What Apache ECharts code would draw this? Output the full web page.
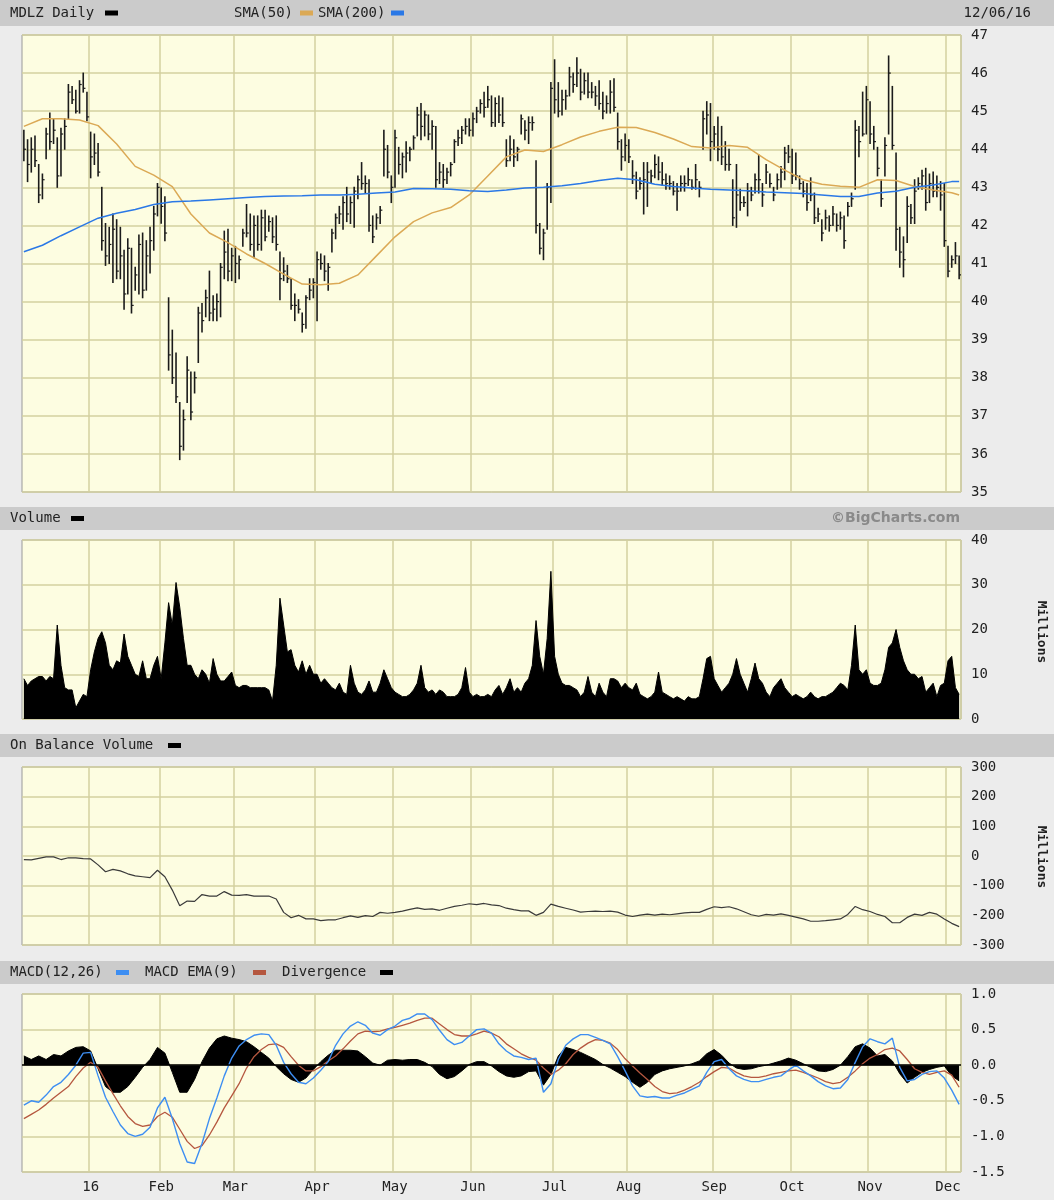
<!DOCTYPE html>
<html>
<head>
<meta charset="utf-8">
<title>MDLZ Daily</title>
<script src="https://cdn.jsdelivr.net/npm/echarts@6/dist/echarts.min.js"></script>
<style>
  html, body { margin: 0; padding: 0; background: #ececec; }
  #chart { width: 1054px; height: 1200px; }
</style>
</head>
<body>
<div id="chart"></div>
<script>
// trading days 2015-12-07 .. 2016-12-06 (NYSE calendar)
const holidays = ['2015-12-25', '2016-01-01', '2016-01-18', '2016-02-15', '2016-03-25',
  '2016-05-30', '2016-07-04', '2016-09-05', '2016-11-24']
const tradingDays = []
for (let d = new Date(Date.UTC(2015, 11, 7)); d <= new Date(Date.UTC(2016, 11, 6)); d.setUTCDate(d.getUTCDate() + 1)) {
  const s = d.toISOString().slice(0, 10)
  const wd = d.getUTCDay()
  if (wd !== 0 && wd !== 6 && !holidays.includes(s)) tradingDays.push(s)
}
const monthNames = ['16', 'Feb', 'Mar', 'Apr', 'May', 'Jun', 'Jul', 'Aug', 'Sep', 'Oct', 'Nov', 'Dec']

// daily price bars (one row per month)
const high = [
  44.5, 44.25, 44.3, 44.35, 43.6, 43.35, 44.55, 44.95, 44.8, 44.3, 44.55, 44.8, 45.7, 45.65, 45.55, 45.8, 46.0, 45.5,
  44.45, 44.4, 44.15, 43.0, 42.05, 41.95, 42.3, 42.15, 41.95, 41.35, 41.65, 41.4, 40.9, 41.75, 41.8, 41.6, 41.95, 42.5, 43.1,
  42.98, 42.75, 40.1, 39.25, 38.65, 37.35, 37.15, 38.55, 38.15, 38.15, 39.85, 39.95, 40.3, 40.8, 40.15, 40.2, 41.0, 41.85, 41.9, 41.4,
  41.45, 41.2, 41.9, 42.55, 42.3, 42.25, 42.25, 42.4, 42.4, 42.25, 42.2, 42.25, 41.3, 41.15, 40.95, 40.6, 40.2, 40.05, 39.7, 40.15, 40.6, 40.6,
  41.3, 41.25, 41.2, 41.0, 41.9, 42.3, 42.5, 42.75, 43.0, 42.75, 43.0, 43.3, 43.65, 43.3, 43.2, 42.25, 42.3, 42.5, 44.5, 44.1, 43.3,
  44.5, 44.05, 43.9, 44.2, 44.05, 44.35, 45.1, 45.2, 45.0, 44.9, 44.75, 44.6, 43.65, 43.6, 43.5, 43.65, 44.25, 44.5, 44.6, 44.8, 44.8,
  44.95, 45.1, 45.3, 45.5, 45.65, 45.4, 45.35, 45.4, 45.35, 44.25, 44.35, 44.25, 44.05, 44.9, 44.75, 44.85, 44.85, 43.7, 42.05, 41.9, 43.1, 45.75,
  46.35, 45.75, 45.55, 45.55, 46.15, 46.0, 46.4, 46.1, 46.0, 46.0, 45.75, 45.65, 45.8, 45.5, 45.4, 45.8, 45.85, 44.95, 44.25, 44.4,
  44.25, 43.7, 43.4, 43.25, 43.65, 43.65, 43.45, 43.85, 43.8, 43.65, 43.35, 43.3, 43.15, 43.1, 43.3, 43.3, 43.5, 43.2, 43.6, 43.15, 45.0, 45.25, 45.2,
  44.6, 44.85, 44.6, 44.2, 44.0, 43.2, 43.6, 42.95, 42.75, 43.1, 43.0, 43.35, 43.85, 43.1, 43.6, 43.35, 43.0, 43.35, 43.55, 44.05, 44.1,
  44.0, 43.9, 43.3, 43.15, 43.1, 43.25, 42.85, 42.45, 42.15, 42.4, 42.25, 42.5, 42.3, 42.35, 42.25, 42.6, 42.85, 44.75, 44.6, 45.5, 45.65,
  45.25, 44.6, 44.05, 43.2, 44.3, 46.45, 45.65, 43.9, 41.95, 41.7, 42.75, 42.55, 43.2, 43.25, 43.45, 43.5, 43.35, 43.4, 43.3, 43.15, 43.1,
  41.45, 41.2, 41.55, 41.2
]
const low = [
  43.7, 43.15, 43.4, 43.55, 42.6, 42.7, 43.75, 44.0, 44.15, 43.0, 43.3, 44.0, 44.8, 45.2, 44.95, 44.95, 45.5, 44.75,
  43.25, 43.6, 43.3, 41.35, 40.95, 41.0, 40.5, 40.6, 40.6, 39.8, 40.2, 39.7, 40.3, 40.2, 40.1, 40.3, 40.75, 41.35, 42.25,
  42.06, 41.6, 38.2, 37.85, 37.35, 35.85, 36.1, 37.35, 36.9, 37.6, 38.4, 39.2, 39.6, 39.5, 39.5, 39.5, 39.6, 40.6, 40.55, 40.55,
  40.5, 40.6, 41.45, 41.7, 41.35, 41.15, 41.35, 41.35, 41.6, 41.85, 41.55, 41.35, 40.05, 40.55, 40.5, 39.8, 39.5, 39.7, 39.2, 39.3, 40.05, 40.1,
  39.5, 40.85, 40.55, 40.3, 41.3, 41.65, 42.05, 41.9, 42.1, 42.05, 41.95, 42.7, 42.95, 42.85, 41.85, 41.55, 41.9, 42.05, 43.3, 43.25, 42.6,
  43.0, 43.35, 43.25, 43.4, 43.7, 44.0, 44.35, 44.25, 44.35, 44.25, 44.0, 43.0, 43.1, 43.0, 43.1, 43.3, 43.65, 44.1, 44.15, 44.4, 44.35,
  44.35, 44.7, 44.95, 44.85, 45.1, 44.6, 44.6, 44.7, 44.6, 43.55, 43.7, 43.55, 43.7, 44.4, 44.25, 44.15, 44.5, 41.8, 41.25, 41.1, 41.9, 42.6,
  44.95, 44.85, 44.9, 45.05, 45.4, 45.5, 45.65, 45.3, 45.45, 45.35, 45.35, 45.15, 45.05, 44.8, 44.95, 44.95, 45.0, 44.0, 43.45, 43.7,
  43.65, 43.1, 42.7, 42.95, 42.3, 42.5, 43.1, 43.25, 43.2, 43.05, 42.95, 42.95, 42.8, 42.4, 42.9, 42.9, 43.05, 42.95, 42.95, 42.75, 44.0, 44.4, 43.7,
  44.0, 43.7, 43.6, 43.45, 43.45, 42.0, 41.95, 42.4, 42.5, 42.25, 42.65, 42.85, 42.85, 42.5, 43.1, 43.0, 42.65, 42.95, 43.0, 43.2, 43.65,
  43.1, 43.2, 42.95, 42.75, 42.4, 42.65, 42.05, 42.1, 41.6, 41.9, 41.85, 42.0, 41.85, 41.9, 41.4, 42.25, 42.5, 42.95, 43.8, 44.35, 44.4,
  44.15, 44.0, 43.3, 42.5, 43.3, 44.4, 44.0, 41.35, 40.9, 40.65, 41.55, 42.05, 42.05, 42.95, 42.95, 42.4, 42.6, 42.75, 42.75, 42.4, 41.45,
  40.65, 40.9, 41.0, 40.6
]
const close = [
  44.0, 43.6, 44.0, 43.7, 42.8, 43.2, 44.4, 44.2, 44.5, 43.3, 44.4, 44.6, 45.5, 45.3, 45.0, 45.7, 45.6, 44.85,
  43.8, 43.9, 43.4, 41.6, 41.2, 41.5, 41.9, 40.8, 41.2, 40.2, 41.4, 39.9, 40.7, 41.5, 40.3, 41.2, 41.6, 42.3, 43.0,
  42.5, 41.8, 38.6, 38.0, 37.5, 36.2, 36.9, 38.2, 37.1, 38.0, 39.7, 39.5, 40.1, 39.7, 39.8, 40.0, 40.9, 41.3, 40.8, 41.2,
  41.0, 41.1, 41.8, 41.8, 41.5, 42.0, 41.5, 42.2, 41.7, 42.1, 41.7, 41.5, 40.6, 40.8, 40.6, 39.9, 39.9, 39.8, 39.4, 40.1, 40.3, 40.5,
  41.1, 41.0, 40.8, 40.9, 41.8, 42.2, 42.3, 42.6, 42.3, 42.6, 42.9, 43.2, 43.1, 43.1, 42.0, 41.7, 42.2, 42.4, 44.0, 43.4, 43.0,
  44.3, 43.6, 43.8, 43.9, 44.0, 44.3, 44.9, 44.6, 44.9, 44.4, 44.6, 43.2, 43.4, 43.2, 43.4, 43.6, 44.2, 44.3, 44.5, 44.6, 44.5,
  44.8, 45.0, 45.2, 45.1, 45.3, 44.7, 45.2, 44.9, 44.7, 43.7, 44.0, 43.8, 44.0, 44.8, 44.5, 44.7, 44.7, 42.0, 41.4, 41.8, 43.0, 45.6,
  45.3, 45.0, 45.3, 45.4, 45.9, 45.7, 46.0, 45.5, 45.8, 45.5, 45.5, 45.4, 45.2, 45.0, 45.2, 45.5, 45.1, 44.2, 43.8, 44.1,
  43.8, 43.3, 42.9, 43.1, 43.2, 43.4, 43.3, 43.6, 43.4, 43.2, 43.1, 43.1, 42.9, 42.9, 43.1, 43.1, 43.2, 43.0, 43.2, 43.0, 44.8, 44.9, 44.2,
  44.4, 44.0, 43.8, 43.6, 43.6, 42.2, 42.8, 42.6, 42.6, 42.9, 42.8, 43.2, 43.2, 42.8, 43.4, 43.1, 42.8, 43.2, 43.4, 43.9, 43.8,
  43.3, 43.3, 43.1, 42.9, 42.6, 42.8, 42.2, 42.3, 41.8, 42.2, 42.0, 42.3, 42.0, 42.2, 41.6, 42.5, 42.7, 44.5, 44.2, 44.4, 45.3,
  44.4, 44.2, 43.5, 42.7, 44.1, 46.0, 44.1, 41.9, 41.3, 41.1, 42.5, 42.2, 42.9, 43.1, 43.3, 42.6, 43.1, 42.9, 43.0, 42.8, 41.6,
  40.8, 41.1, 41.2, 40.7
]

// daily volume, millions
const volume = [
  9, 7.5, 8.5, 9, 9.5, 9.5, 8.5, 9.5, 9, 21, 12, 7, 6.5, 6.5, 2.5, 4, 5.5, 5,
  11, 15, 18, 19.5, 17, 12, 11, 13, 12.5, 19, 14, 12, 10, 9.5, 13, 9, 9, 12, 14,
  9, 17, 26, 21, 30.5, 25, 18, 12, 12, 10, 9, 11, 10, 8, 13.5, 10, 8.5, 8.5, 9.5, 10.5,
  7.5, 7, 7.5, 7.5, 7, 7, 7, 7, 7, 6.5, 4, 12, 27, 21, 15, 15.5, 12, 10.5, 13, 10, 12, 10,
  10, 8, 9, 8, 7, 6.5, 8, 6, 5.5, 12, 8, 6, 5.5, 6.5, 8.5, 6, 6, 8, 11, 9, 7,
  6, 5.5, 5, 5, 5.5, 6.5, 8, 12, 7, 6, 6.5, 5.5, 6.5, 6, 5, 5, 5, 5.5, 7, 11.5, 6,
  5, 5.5, 5, 5, 5.5, 5, 6.5, 7.5, 5.5, 7, 9, 6, 7, 6, 8, 9, 12, 22, 14, 10, 18, 33,
  14, 10, 8, 7.5, 7.5, 7, 6.5, 5, 6, 9.5, 6, 5, 8, 6, 5, 9, 9, 8.5, 7, 8,
  7, 6.5, 8, 5.5, 5, 4.5, 5, 6, 10.5, 6, 5.5, 5, 4.5, 5, 4.5, 4, 5, 4.5, 4.5, 5, 9, 13.5, 14,
  9, 7.5, 6, 7, 8, 10, 13.5, 10, 8, 6, 9, 12.5, 9, 8, 6, 5, 7, 8, 9, 7, 6,
  5, 5.5, 5, 4.5, 5, 6, 5, 4.5, 5, 5, 5.5, 6, 7, 8, 7.5, 6.5, 12, 21, 11, 10, 11,
  8, 7.5, 7.5, 8, 11, 16, 17, 20, 16, 13, 11, 10, 10, 9, 9.5, 6, 7, 8, 5, 7.5, 8,
  13, 14, 7, 5.5
]

// moving averages read every 5th trading day (last value = final day)
const smaStep = 5
const sma50 = [
  44.6, 44.8, 44.8, 44.77, 44.62, 44.14, 43.55, 43.32, 43.02, 42.3,
  41.8, 41.55, 41.25, 41.0, 40.72, 40.46, 40.44, 40.48, 40.7, 41.2,
  41.7, 42.1, 42.33, 42.47, 42.8, 43.3, 43.8, 43.98, 43.94, 44.12,
  44.32, 44.47, 44.58, 44.57, 44.44, 44.27, 44.07, 44.03, 44.1, 44.05,
  43.73, 43.45, 43.2, 43.08, 43.03, 43.0, 43.2, 43.18, 43.02, 42.93,
  42.86, 42.8
]
const sma200 = [
  41.31, 41.48, 41.73, 41.96, 42.19, 42.32, 42.42, 42.55, 42.62, 42.64,
  42.67, 42.7, 42.73, 42.76, 42.77, 42.78, 42.8, 42.8, 42.82, 42.85,
  42.88, 42.97, 42.96, 42.95, 42.91, 42.89, 42.93, 42.98, 43.0, 43.04,
  43.1, 43.18, 43.24, 43.2, 43.08, 43.02, 42.98, 42.95, 42.93, 42.91,
  42.88, 42.86, 42.84, 42.8, 42.76, 42.76, 42.85, 42.9, 43.0, 43.06,
  43.15, 43.15
]

// indicators read every 2nd trading day
const indStep = 2
const obv = [
  -12, -13, -8, -3, -3, -12, -6, -6, -9, -10,
  -30, -53, -45, -50, -60, -67, -70, -73, -48, -70,
  -115, -168, -152, -153, -130, -135, -135, -120, -132, -133,
  -130, -135, -135, -135, -145, -190, -208, -200, -212, -212,
  -218, -215, -215, -208, -202, -207, -201, -204, -190, -193,
  -190, -186, -180, -175, -180, -178, -183, -176, -170, -166,
  -161, -164, -160, -165, -167, -176, -181, -185, -185, -200,
  -190, -162, -170, -176, -182, -189, -187, -186, -187, -186,
  -189, -199, -204, -199, -196, -199, -196, -198, -195, -192,
  -190, -190, -180, -171, -174, -171, -178, -188, -198, -203,
  -197, -199, -195, -200, -206, -212, -220, -220, -218, -215,
  -212, -197, -170, -181, -187, -197, -204, -225, -225, -207,
  -196, -200, -190, -196, -212, -227, -238
]
const macd = [
  -0.56, -0.5, -0.52, -0.42, -0.3, -0.24, -0.13, 0.0, 0.17, 0.18,
  -0.15, -0.45, -0.65, -0.84, -0.96, -1.0, -0.97, -0.87, -0.6, -0.45,
  -0.75, -1.1, -1.36, -1.38, -1.1, -0.75, -0.46, -0.15, 0.1, 0.27,
  0.36, 0.42, 0.44, 0.43, 0.28, 0.04, -0.12, -0.24, -0.26, -0.18,
  -0.07, 0.05, 0.28, 0.44, 0.55, 0.61, 0.56, 0.45, 0.42, 0.5,
  0.55, 0.63, 0.66, 0.72, 0.72, 0.64, 0.49, 0.36, 0.29, 0.32,
  0.41, 0.5, 0.51, 0.45, 0.3, 0.2, 0.13, 0.11, 0.08, 0.1,
  -0.38, -0.26, 0.08, 0.28, 0.37, 0.43, 0.43, 0.39, 0.35, 0.3,
  0.12, -0.08, -0.29, -0.43, -0.45, -0.44, -0.46, -0.46, -0.42, -0.39,
  -0.34, -0.29, -0.1, 0.05, 0.08, -0.05, -0.15, -0.2, -0.23, -0.23,
  -0.2, -0.17, -0.15, -0.07, 0.0, -0.08, -0.15, -0.23, -0.29, -0.33,
  -0.32, -0.2, 0.04, 0.26, 0.37, 0.33, 0.3, 0.38, -0.03, -0.22,
  -0.2, -0.13, -0.09, -0.08, -0.18, -0.35, -0.55
]
const macdSignal = [
  -0.75, -0.69, -0.63, -0.55, -0.46, -0.38, -0.3, -0.16, -0.04, 0.04,
  -0.03, -0.22, -0.4, -0.57, -0.72, -0.82, -0.86, -0.84, -0.72, -0.66,
  -0.73, -0.9, -1.07, -1.17, -1.13, -0.98, -0.8, -0.6, -0.43, -0.26,
  -0.04, 0.12, 0.22, 0.29, 0.3, 0.25, 0.12, 0.0, -0.08, -0.08,
  -0.02, 0.06, 0.13, 0.23, 0.34, 0.44, 0.48, 0.47, 0.48, 0.51,
  0.53, 0.56, 0.59, 0.63, 0.66, 0.66, 0.58, 0.5, 0.43, 0.41,
  0.41, 0.44, 0.48, 0.45, 0.4, 0.3, 0.23, 0.16, 0.11, 0.07,
  -0.04, -0.13, -0.07, 0.02, 0.15, 0.24, 0.31, 0.36, 0.35, 0.31,
  0.22, 0.09, -0.01, -0.11, -0.2, -0.3, -0.37, -0.4, -0.39, -0.35,
  -0.3, -0.24, -0.16, -0.09, -0.03, -0.04, -0.1, -0.15, -0.17, -0.17,
  -0.15, -0.12, -0.1, -0.08, -0.07, -0.1, -0.14, -0.18, -0.23, -0.26,
  -0.24, -0.17, -0.08, 0.02, 0.1, 0.15, 0.22, 0.24, 0.2, 0.08,
  -0.05, -0.1, -0.13, -0.1, -0.08, -0.14, -0.31
]
const divergence = [
  0.13, 0.08, 0.13, 0.08, 0.15, 0.13, 0.2, 0.25, 0.26, 0.2,
  -0.05, -0.3, -0.38, -0.38, -0.3, -0.17, -0.03, 0.08, 0.25, 0.17,
  -0.1, -0.38, -0.38, -0.2, 0.05, 0.24, 0.37, 0.41, 0.38, 0.36,
  0.33, 0.26, 0.18, 0.1, -0.02, -0.12, -0.2, -0.24, -0.18, -0.06,
  0.05, 0.14, 0.21, 0.21, 0.21, 0.2, 0.12, 0.03, 0.0, 0.07,
  0.08, 0.07, 0.08, 0.08, 0.04, -0.02, -0.13, -0.19, -0.16, -0.08,
  0.01, 0.05, 0.05, -0.01, -0.09, -0.15, -0.17, -0.15, -0.09, -0.08,
  -0.28, -0.13, 0.13, 0.25, 0.22, 0.18, 0.13, 0.08, 0.01, -0.04,
  -0.1, -0.16, -0.24, -0.31, -0.24, -0.13, -0.08, -0.05, -0.03, -0.01,
  0.02, 0.06, 0.16, 0.22, 0.14, 0.03, -0.04, -0.06, -0.05, -0.02,
  0.0, 0.03, 0.06, 0.1, 0.07, 0.02, -0.03, -0.08, -0.09, -0.06,
  0.0, 0.12, 0.26, 0.3, 0.24, 0.13, 0.15, 0.06, -0.12, -0.25,
  -0.17, -0.1, -0.06, -0.03, -0.01, -0.15, -0.22
]

const lastDay = tradingDays.length - 1
const monthStart = new Set()
tradingDays.forEach((d, i) => {
  if (i > 0 && d.slice(5, 7) !== tradingDays[i - 1].slice(5, 7)) monthStart.add(i)
})
const isMonthStart = (i) => monthStart.has(i)

const sampled = (arr, step) => arr.map((v, k) => [Math.min(k * step, lastDay), v])

const MONO = '"DejaVu Sans Mono", monospace'
const gridLine = { color: '#d3d19f', width: 1.5 }
const grids = [
  { top: 35, height: 457 },
  { top: 540, height: 179 },
  { top: 767, height: 178 },
  { top: 994, height: 178 }
].map(g => ({
  ...g, left: 22, width: 939, show: true,
  backgroundColor: '#fdfde1', borderColor: '#9a9a9a', borderWidth: 1
}))

const xAxes = grids.map((_, g) => ({
  type: 'category', gridIndex: g, data: tradingDays, boundaryGap: true,
  axisLine: { show: false }, axisTick: { show: false },
  axisLabel: g === 3
    ? {
        interval: isMonthStart, margin: 8, color: '#222', fontFamily: MONO, fontSize: 14,
        formatter: v => monthNames[+v.slice(5, 7) - 1]
      }
    : { show: false },
  splitLine: { show: true, interval: isMonthStart, lineStyle: gridLine }
}))

const yAxis = (g, min, max, interval, fmt) => ({
  type: 'value', gridIndex: g, position: 'right', min, max, interval,
  axisLine: { show: false }, axisTick: { show: false },
  axisLabel: { margin: 10, color: '#222', fontFamily: MONO, fontSize: 14, formatter: fmt },
  splitLine: { show: true, lineStyle: gridLine }
})

// header strips and legends
const header = (y, h, items) => [
  { type: 'rect', shape: { x: 0, y, width: 1054, height: h }, style: { fill: '#cbcbcb' }, silent: true },
  ...items.map(it => it.text
    ? { type: 'text', x: it.x, y: y + h / 2, style: { text: it.text, font: '14px ' + MONO, fill: '#222', textVerticalAlign: 'middle', verticalAlign: 'middle' } }
    : { type: 'rect', shape: { x: it.x, y: y + h / 2 - 2.5, width: 13, height: 5 }, style: { fill: it.swatch } })
]

const graphic = [
  ...header(0, 26, [
    { text: 'MDLZ Daily', x: 10 }, { swatch: '#000', x: 105 },
    { text: 'SMA(50)', x: 234 }, { swatch: '#dba955', x: 300 },
    { text: 'SMA(200)', x: 318 }, { swatch: '#2a78e6', x: 391 }
  ]),
  { type: 'text', x: 1031, y: 13, style: { text: '12/06/16', font: '14px ' + MONO, fill: '#222', textAlign: 'right', align: 'right', textVerticalAlign: 'middle', verticalAlign: 'middle' } },
  ...header(507, 23, [{ text: 'Volume', x: 10 }, { swatch: '#000', x: 71 }]),
  { type: 'text', x: 960, y: 518.5, style: { text: '©BigCharts.com', font: 'bold 14px "DejaVu Sans", sans-serif', fill: '#8a8a8a', textAlign: 'right', align: 'right', textVerticalAlign: 'middle', verticalAlign: 'middle' } },
  ...header(734, 23, [{ text: 'On Balance Volume', x: 10 }, { swatch: '#000', x: 168 }]),
  ...header(961, 23, [
    { text: 'MACD(12,26)', x: 10 }, { swatch: '#3d8ef2', x: 116 },
    { text: 'MACD EMA(9)', x: 145 }, { swatch: '#b5573f', x: 253 },
    { text: 'Divergence', x: 282 }, { swatch: '#000', x: 380 }
  ]),
  ...[632, 857].map(cy => ({
    type: 'text', x: 1041, y: cy, rotation: -Math.PI / 2,
    style: { text: 'Millions', font: 'bold 13px ' + MONO, fill: '#222', textAlign: 'center', align: 'center', textVerticalAlign: 'middle', verticalAlign: 'middle' }
  }))
]

function renderBar(params, api) {
  const i = api.value(0)
  const hi = api.coord([i, api.value(1)])
  const lo = api.coord([i, api.value(2)])
  const cl = api.coord([i, api.value(3)])
  return {
    type: 'group',
    children: [
      { type: 'line', shape: { x1: hi[0], y1: hi[1] - 0.5, x2: lo[0], y2: lo[1] + 0.5 }, style: { stroke: '#1b1b1b', lineWidth: 1.6 } },
      { type: 'line', shape: { x1: cl[0], y1: cl[1], x2: cl[0] + 2.2, y2: cl[1] }, style: { stroke: '#1b1b1b', lineWidth: 1.2 } }
    ]
  }
}

const thinLine = (color, width) => ({ type: 'line', symbol: 'none', lineStyle: { color, width }, itemStyle: { color }, z: 3 })

const chart = echarts.init(document.getElementById('chart'))
chart.setOption({
  animation: false,
  backgroundColor: '#ececec',
  grid: grids,
  xAxis: xAxes,
  yAxis: [
    yAxis(0, 35, 47, 1),
    yAxis(1, 0, 40, 10),
    yAxis(2, -300, 300, 100),
    yAxis(3, -1.5, 1.0, 0.5, v => v.toFixed(1))
  ],
  graphic,
  series: [
    {
      type: 'custom', xAxisIndex: 0, yAxisIndex: 0, renderItem: renderBar, clip: true, z: 2,
      encode: { x: 0, y: [1, 2, 3] },
      data: tradingDays.map((_, i) => [i, high[i], low[i], close[i]])
    },
    { ...thinLine('#dba955', 1.5), xAxisIndex: 0, yAxisIndex: 0, data: sampled(sma50, smaStep) },
    { ...thinLine('#2a78e6', 1.5), xAxisIndex: 0, yAxisIndex: 0, data: sampled(sma200, smaStep) },
    {
      ...thinLine('#000', 1), xAxisIndex: 1, yAxisIndex: 1, data: volume,
      areaStyle: { color: '#000', opacity: 1 }
    },
    { ...thinLine('#3a3a3a', 1.2), xAxisIndex: 2, yAxisIndex: 2, data: sampled(obv, indStep) },
    {
      ...thinLine('#000', 1), xAxisIndex: 3, yAxisIndex: 3, data: sampled(divergence, indStep),
      areaStyle: { color: '#000', opacity: 1 }, z: 2,
      markLine: { silent: true, symbol: 'none', label: { show: false }, lineStyle: { color: '#000', width: 1.5, type: 'solid' }, data: [{ yAxis: 0 }] }
    },
    { ...thinLine('#b5573f', 1.3), xAxisIndex: 3, yAxisIndex: 3, data: sampled(macdSignal, indStep) },
    { ...thinLine('#3d8ef2', 1.4), xAxisIndex: 3, yAxisIndex: 3, data: sampled(macd, indStep) }
  ]
})
</script>
</body>
</html>
